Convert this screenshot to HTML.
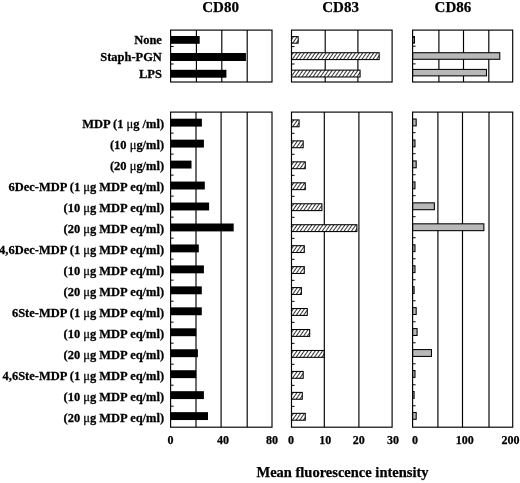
<!DOCTYPE html><html><head><meta charset="utf-8"><title>Mean fluorescence intensity</title><style>html,body{margin:0;padding:0;background:#fff;width:520px;height:483px;overflow:hidden}svg{display:block}text{font-family:"Liberation Serif", "Times New Roman", serif;font-weight:bold;fill:#000;stroke:#000;stroke-width:0.25px}.mu{font-weight:normal}</style></head><body>
<svg width="520" height="483" viewBox="0 0 520 483">
<defs><pattern id="h" patternUnits="userSpaceOnUse" width="3.0" height="10" patternTransform="rotate(35)"><rect width="3.0" height="10" fill="#fff"/><rect x="0" y="0" width="0.8" height="10" fill="#000"/></pattern></defs>
<rect width="520" height="483" fill="#fff"/>
<g>
<line x1="196.4" y1="30.1" x2="196.4" y2="82" stroke="#000" stroke-width="1.15"/>
<line x1="221.8" y1="30.1" x2="221.8" y2="82" stroke="#000" stroke-width="1.15"/>
<line x1="247.2" y1="30.1" x2="247.2" y2="82" stroke="#000" stroke-width="1.15"/>
<rect x="170.6" y="36" width="29.1" height="7.8" fill="#000"/>
<rect x="170.6" y="53" width="75.3" height="8" fill="#000"/>
<rect x="170.6" y="69.8" width="55.8" height="7.9" fill="#000"/>
<line x1="170.6" y1="46.5" x2="173.6" y2="46.5" stroke="#000" stroke-width="1"/>
<line x1="170.6" y1="64" x2="173.6" y2="64" stroke="#000" stroke-width="1"/>
<rect x="170.6" y="30.1" width="101.4" height="51.9" fill="none" stroke="#000" stroke-width="1.15"/>
<line x1="196" y1="112.1" x2="196" y2="427.2" stroke="#000" stroke-width="1.15"/>
<line x1="221.1" y1="112.1" x2="221.1" y2="427.2" stroke="#000" stroke-width="1.15"/>
<line x1="247.2" y1="112.1" x2="247.2" y2="427.2" stroke="#000" stroke-width="1.15"/>
<rect x="170.6" y="118.7" width="31.3" height="7.9" fill="#000"/>
<rect x="170.6" y="139.66" width="33.3" height="7.9" fill="#000"/>
<rect x="170.6" y="160.62" width="20.9" height="7.9" fill="#000"/>
<rect x="170.6" y="181.58" width="34.2" height="7.9" fill="#000"/>
<rect x="170.6" y="202.54" width="38.5" height="7.9" fill="#000"/>
<rect x="170.6" y="223.5" width="63.1" height="7.9" fill="#000"/>
<rect x="170.6" y="244.46" width="28.2" height="7.9" fill="#000"/>
<rect x="170.6" y="265.42" width="33.3" height="7.9" fill="#000"/>
<rect x="170.6" y="286.38" width="31.2" height="7.9" fill="#000"/>
<rect x="170.6" y="307.34" width="31.2" height="7.9" fill="#000"/>
<rect x="170.6" y="328.3" width="25.6" height="7.9" fill="#000"/>
<rect x="170.6" y="349.26" width="27.3" height="7.9" fill="#000"/>
<rect x="170.6" y="370.22" width="25.6" height="7.9" fill="#000"/>
<rect x="170.6" y="391.18" width="33.3" height="7.9" fill="#000"/>
<rect x="170.6" y="412.14" width="37.4" height="7.9" fill="#000"/>
<line x1="170.6" y1="133.11" x2="173.6" y2="133.11" stroke="#000" stroke-width="1"/>
<line x1="170.6" y1="154.11" x2="173.6" y2="154.11" stroke="#000" stroke-width="1"/>
<line x1="170.6" y1="175.12" x2="173.6" y2="175.12" stroke="#000" stroke-width="1"/>
<line x1="170.6" y1="196.13" x2="173.6" y2="196.13" stroke="#000" stroke-width="1"/>
<line x1="170.6" y1="217.13" x2="173.6" y2="217.13" stroke="#000" stroke-width="1"/>
<line x1="170.6" y1="238.14" x2="173.6" y2="238.14" stroke="#000" stroke-width="1"/>
<line x1="170.6" y1="259.15" x2="173.6" y2="259.15" stroke="#000" stroke-width="1"/>
<line x1="170.6" y1="280.15" x2="173.6" y2="280.15" stroke="#000" stroke-width="1"/>
<line x1="170.6" y1="301.16" x2="173.6" y2="301.16" stroke="#000" stroke-width="1"/>
<line x1="170.6" y1="322.17" x2="173.6" y2="322.17" stroke="#000" stroke-width="1"/>
<line x1="170.6" y1="343.17" x2="173.6" y2="343.17" stroke="#000" stroke-width="1"/>
<line x1="170.6" y1="364.18" x2="173.6" y2="364.18" stroke="#000" stroke-width="1"/>
<line x1="170.6" y1="385.19" x2="173.6" y2="385.19" stroke="#000" stroke-width="1"/>
<line x1="170.6" y1="406.19" x2="173.6" y2="406.19" stroke="#000" stroke-width="1"/>
<rect x="170.6" y="112.1" width="101.4" height="315.1" fill="none" stroke="#000" stroke-width="1.15"/>
</g>
<g>
<line x1="325.2" y1="30.1" x2="325.2" y2="82" stroke="#000" stroke-width="1.15"/>
<line x1="357.9" y1="30.1" x2="357.9" y2="82" stroke="#000" stroke-width="1.15"/>
<rect x="291.5" y="36.62" width="6.68" height="6.55" fill="url(#h)" stroke="#000" stroke-width="1.05"/>
<rect x="291.5" y="52.72" width="87.68" height="6.85" fill="url(#h)" stroke="#000" stroke-width="1.05"/>
<rect x="291.5" y="70.12" width="68.58" height="6.85" fill="url(#h)" stroke="#000" stroke-width="1.05"/>
<line x1="291.5" y1="46.6" x2="294.5" y2="46.6" stroke="#000" stroke-width="1"/>
<line x1="291.5" y1="64" x2="294.5" y2="64" stroke="#000" stroke-width="1"/>
<rect x="291.5" y="30.1" width="100.6" height="51.9" fill="none" stroke="#000" stroke-width="1.15"/>
<line x1="324.3" y1="112.1" x2="324.3" y2="427.2" stroke="#000" stroke-width="1.15"/>
<line x1="358.9" y1="112.1" x2="358.9" y2="427.2" stroke="#000" stroke-width="1.15"/>
<rect x="291.5" y="119.92" width="7.58" height="6.85" fill="url(#h)" stroke="#000" stroke-width="1.05"/>
<rect x="291.5" y="140.88" width="11.68" height="6.85" fill="url(#h)" stroke="#000" stroke-width="1.05"/>
<rect x="291.5" y="161.84" width="13.78" height="6.85" fill="url(#h)" stroke="#000" stroke-width="1.05"/>
<rect x="291.5" y="182.8" width="13.78" height="6.85" fill="url(#h)" stroke="#000" stroke-width="1.05"/>
<rect x="291.5" y="203.76" width="30.38" height="6.85" fill="url(#h)" stroke="#000" stroke-width="1.05"/>
<rect x="291.5" y="224.72" width="65.38" height="6.85" fill="url(#h)" stroke="#000" stroke-width="1.05"/>
<rect x="291.5" y="245.68" width="12.78" height="6.85" fill="url(#h)" stroke="#000" stroke-width="1.05"/>
<rect x="291.5" y="266.64" width="12.78" height="6.85" fill="url(#h)" stroke="#000" stroke-width="1.05"/>
<rect x="291.5" y="287.6" width="9.88" height="6.85" fill="url(#h)" stroke="#000" stroke-width="1.05"/>
<rect x="291.5" y="308.56" width="15.78" height="6.85" fill="url(#h)" stroke="#000" stroke-width="1.05"/>
<rect x="291.5" y="329.52" width="18.18" height="6.85" fill="url(#h)" stroke="#000" stroke-width="1.05"/>
<rect x="291.5" y="350.48" width="32.58" height="6.85" fill="url(#h)" stroke="#000" stroke-width="1.05"/>
<rect x="291.5" y="371.44" width="11.68" height="6.85" fill="url(#h)" stroke="#000" stroke-width="1.05"/>
<rect x="291.5" y="392.4" width="10.78" height="6.85" fill="url(#h)" stroke="#000" stroke-width="1.05"/>
<rect x="291.5" y="413.36" width="13.78" height="6.85" fill="url(#h)" stroke="#000" stroke-width="1.05"/>
<line x1="291.5" y1="133.31" x2="294.5" y2="133.31" stroke="#000" stroke-width="1"/>
<line x1="291.5" y1="154.31" x2="294.5" y2="154.31" stroke="#000" stroke-width="1"/>
<line x1="291.5" y1="175.32" x2="294.5" y2="175.32" stroke="#000" stroke-width="1"/>
<line x1="291.5" y1="196.33" x2="294.5" y2="196.33" stroke="#000" stroke-width="1"/>
<line x1="291.5" y1="217.33" x2="294.5" y2="217.33" stroke="#000" stroke-width="1"/>
<line x1="291.5" y1="238.34" x2="294.5" y2="238.34" stroke="#000" stroke-width="1"/>
<line x1="291.5" y1="259.35" x2="294.5" y2="259.35" stroke="#000" stroke-width="1"/>
<line x1="291.5" y1="280.35" x2="294.5" y2="280.35" stroke="#000" stroke-width="1"/>
<line x1="291.5" y1="301.36" x2="294.5" y2="301.36" stroke="#000" stroke-width="1"/>
<line x1="291.5" y1="322.37" x2="294.5" y2="322.37" stroke="#000" stroke-width="1"/>
<line x1="291.5" y1="343.37" x2="294.5" y2="343.37" stroke="#000" stroke-width="1"/>
<line x1="291.5" y1="364.38" x2="294.5" y2="364.38" stroke="#000" stroke-width="1"/>
<line x1="291.5" y1="385.39" x2="294.5" y2="385.39" stroke="#000" stroke-width="1"/>
<line x1="291.5" y1="406.39" x2="294.5" y2="406.39" stroke="#000" stroke-width="1"/>
<rect x="291.5" y="112.1" width="100.6" height="315.1" fill="none" stroke="#000" stroke-width="1.15"/>
</g>
<g>
<line x1="438.9" y1="30.1" x2="438.9" y2="82" stroke="#000" stroke-width="1.15"/>
<line x1="463.5" y1="30.1" x2="463.5" y2="82" stroke="#000" stroke-width="1.15"/>
<line x1="488.8" y1="30.1" x2="488.8" y2="82" stroke="#000" stroke-width="1.15"/>
<rect x="412.6" y="36.62" width="1.88" height="6.45" fill="#b8b8b8" stroke="#000" stroke-width="1.05"/>
<rect x="412.6" y="52.72" width="87.18" height="6.55" fill="#b8b8b8" stroke="#000" stroke-width="1.05"/>
<rect x="412.6" y="69.42" width="73.88" height="6.45" fill="#b8b8b8" stroke="#000" stroke-width="1.05"/>
<line x1="412.6" y1="46.2" x2="415.6" y2="46.2" stroke="#000" stroke-width="1"/>
<line x1="412.6" y1="63.9" x2="415.6" y2="63.9" stroke="#000" stroke-width="1"/>
<rect x="412.6" y="30.1" width="100.1" height="51.9" fill="none" stroke="#000" stroke-width="1.15"/>
<line x1="437.9" y1="112.1" x2="437.9" y2="427.2" stroke="#000" stroke-width="1.15"/>
<line x1="462.5" y1="112.1" x2="462.5" y2="427.2" stroke="#000" stroke-width="1.15"/>
<line x1="489" y1="112.1" x2="489" y2="427.2" stroke="#000" stroke-width="1.15"/>
<rect x="412.6" y="119.02" width="3.58" height="6.85" fill="#b8b8b8" stroke="#000" stroke-width="1.05"/>
<rect x="412.6" y="139.98" width="2.38" height="6.85" fill="#b8b8b8" stroke="#000" stroke-width="1.05"/>
<rect x="412.6" y="160.94" width="3.58" height="6.85" fill="#b8b8b8" stroke="#000" stroke-width="1.05"/>
<rect x="412.6" y="181.9" width="2.38" height="6.85" fill="#b8b8b8" stroke="#000" stroke-width="1.05"/>
<rect x="412.6" y="202.86" width="21.78" height="6.85" fill="#b8b8b8" stroke="#000" stroke-width="1.05"/>
<rect x="412.6" y="223.82" width="71.28" height="6.85" fill="#b8b8b8" stroke="#000" stroke-width="1.05"/>
<rect x="412.6" y="244.78" width="2.38" height="6.85" fill="#b8b8b8" stroke="#000" stroke-width="1.05"/>
<rect x="412.6" y="265.74" width="2.38" height="6.85" fill="#b8b8b8" stroke="#000" stroke-width="1.05"/>
<rect x="412.6" y="286.7" width="1.48" height="6.85" fill="#b8b8b8" stroke="#000" stroke-width="1.05"/>
<rect x="412.6" y="307.66" width="3.58" height="6.85" fill="#b8b8b8" stroke="#000" stroke-width="1.05"/>
<rect x="412.6" y="328.62" width="4.48" height="6.85" fill="#b8b8b8" stroke="#000" stroke-width="1.05"/>
<rect x="412.6" y="349.58" width="18.88" height="6.85" fill="#b8b8b8" stroke="#000" stroke-width="1.05"/>
<rect x="412.6" y="370.54" width="2.38" height="6.85" fill="#b8b8b8" stroke="#000" stroke-width="1.05"/>
<rect x="412.6" y="391.5" width="1.48" height="6.85" fill="#b8b8b8" stroke="#000" stroke-width="1.05"/>
<rect x="412.6" y="412.46" width="3.58" height="6.85" fill="#b8b8b8" stroke="#000" stroke-width="1.05"/>
<line x1="412.6" y1="132.71" x2="415.6" y2="132.71" stroke="#000" stroke-width="1"/>
<line x1="412.6" y1="153.71" x2="415.6" y2="153.71" stroke="#000" stroke-width="1"/>
<line x1="412.6" y1="174.72" x2="415.6" y2="174.72" stroke="#000" stroke-width="1"/>
<line x1="412.6" y1="195.73" x2="415.6" y2="195.73" stroke="#000" stroke-width="1"/>
<line x1="412.6" y1="216.73" x2="415.6" y2="216.73" stroke="#000" stroke-width="1"/>
<line x1="412.6" y1="237.74" x2="415.6" y2="237.74" stroke="#000" stroke-width="1"/>
<line x1="412.6" y1="258.75" x2="415.6" y2="258.75" stroke="#000" stroke-width="1"/>
<line x1="412.6" y1="279.75" x2="415.6" y2="279.75" stroke="#000" stroke-width="1"/>
<line x1="412.6" y1="300.76" x2="415.6" y2="300.76" stroke="#000" stroke-width="1"/>
<line x1="412.6" y1="321.77" x2="415.6" y2="321.77" stroke="#000" stroke-width="1"/>
<line x1="412.6" y1="342.77" x2="415.6" y2="342.77" stroke="#000" stroke-width="1"/>
<line x1="412.6" y1="363.78" x2="415.6" y2="363.78" stroke="#000" stroke-width="1"/>
<line x1="412.6" y1="384.79" x2="415.6" y2="384.79" stroke="#000" stroke-width="1"/>
<line x1="412.6" y1="405.79" x2="415.6" y2="405.79" stroke="#000" stroke-width="1"/>
<rect x="412.6" y="112.1" width="100.1" height="315.1" fill="none" stroke="#000" stroke-width="1.15"/>
</g>
<text x="220.6" y="11.7" text-anchor="middle" font-size="15">CD80</text>
<text x="340.6" y="11.7" text-anchor="middle" font-size="15">CD83</text>
<text x="452.9" y="11.7" text-anchor="middle" font-size="15">CD86</text>
<text x="161.9" y="43.7" text-anchor="end" font-size="12" transform="translate(161.9 0) scale(1.04 1) translate(-161.9 0)">None</text>
<text x="161.9" y="60.8" text-anchor="end" font-size="12" transform="translate(161.9 0) scale(1.04 1) translate(-161.9 0)">Staph-PGN</text>
<text x="161.9" y="77.9" text-anchor="end" font-size="12" transform="translate(161.9 0) scale(1.04 1) translate(-161.9 0)">LPS</text>
<text x="164.1" y="128.3" text-anchor="end" font-size="12" transform="translate(164.1 0) scale(1.04 1) translate(-164.1 0)">MDP (1 <tspan class="mu">μ</tspan>g /ml)</text>
<text x="164.1" y="149.3" text-anchor="end" font-size="12" transform="translate(164.1 0) scale(1.04 1) translate(-164.1 0)">(10 <tspan class="mu">μ</tspan>g/ml)</text>
<text x="164.1" y="170.3" text-anchor="end" font-size="12" transform="translate(164.1 0) scale(1.04 1) translate(-164.1 0)">(20 <tspan class="mu">μ</tspan>g/ml)</text>
<text x="164.1" y="191.3" text-anchor="end" font-size="12" transform="translate(164.1 0) scale(1.04 1) translate(-164.1 0)">6Dec-MDP (1 <tspan class="mu">μ</tspan>g MDP eq/ml)</text>
<text x="164.1" y="212.3" text-anchor="end" font-size="12" transform="translate(164.1 0) scale(1.04 1) translate(-164.1 0)">(10 <tspan class="mu">μ</tspan>g MDP eq/ml)</text>
<text x="164.1" y="233.3" text-anchor="end" font-size="12" transform="translate(164.1 0) scale(1.04 1) translate(-164.1 0)">(20 <tspan class="mu">μ</tspan>g MDP eq/ml)</text>
<text x="164.1" y="254.3" text-anchor="end" font-size="12" transform="translate(164.1 0) scale(1.04 1) translate(-164.1 0)">4,6Dec-MDP (1 <tspan class="mu">μ</tspan>g MDP eq/ml)</text>
<text x="164.1" y="275.3" text-anchor="end" font-size="12" transform="translate(164.1 0) scale(1.04 1) translate(-164.1 0)">(10 <tspan class="mu">μ</tspan>g MDP eq/ml)</text>
<text x="164.1" y="296.3" text-anchor="end" font-size="12" transform="translate(164.1 0) scale(1.04 1) translate(-164.1 0)">(20 <tspan class="mu">μ</tspan>g MDP eq/ml)</text>
<text x="164.1" y="317.3" text-anchor="end" font-size="12" transform="translate(164.1 0) scale(1.04 1) translate(-164.1 0)">6Ste-MDP (1 <tspan class="mu">μ</tspan>g MDP eq/ml)</text>
<text x="164.1" y="338.3" text-anchor="end" font-size="12" transform="translate(164.1 0) scale(1.04 1) translate(-164.1 0)">(10 <tspan class="mu">μ</tspan>g MDP eq/ml)</text>
<text x="164.1" y="359.3" text-anchor="end" font-size="12" transform="translate(164.1 0) scale(1.04 1) translate(-164.1 0)">(20 <tspan class="mu">μ</tspan>g MDP eq/ml)</text>
<text x="164.1" y="380.3" text-anchor="end" font-size="12" transform="translate(164.1 0) scale(1.04 1) translate(-164.1 0)">4,6Ste-MDP (1 <tspan class="mu">μ</tspan>g MDP eq/ml)</text>
<text x="164.1" y="401.3" text-anchor="end" font-size="12" transform="translate(164.1 0) scale(1.04 1) translate(-164.1 0)">(10 <tspan class="mu">μ</tspan>g MDP eq/ml)</text>
<text x="164.1" y="422.3" text-anchor="end" font-size="12" transform="translate(164.1 0) scale(1.04 1) translate(-164.1 0)">(20 <tspan class="mu">μ</tspan>g MDP eq/ml)</text>
<text x="170.5" y="443.6" text-anchor="middle" font-size="12">0</text>
<text x="223.1" y="443.6" text-anchor="middle" font-size="12">40</text>
<text x="272.1" y="443.6" text-anchor="middle" font-size="12">80</text>
<text x="291" y="443.6" text-anchor="middle" font-size="12">0</text>
<text x="325.2" y="443.6" text-anchor="middle" font-size="12">10</text>
<text x="358.8" y="443.6" text-anchor="middle" font-size="12">20</text>
<text x="393.1" y="443.6" text-anchor="middle" font-size="12">30</text>
<text x="414.9" y="443.6" text-anchor="middle" font-size="12">0</text>
<text x="464.8" y="443.6" text-anchor="middle" font-size="12">100</text>
<text x="510.6" y="443.6" text-anchor="middle" font-size="12">200</text>
<text x="342.5" y="476.6" text-anchor="middle" font-size="14.5">Mean fluorescence intensity</text>
</svg></body></html>
